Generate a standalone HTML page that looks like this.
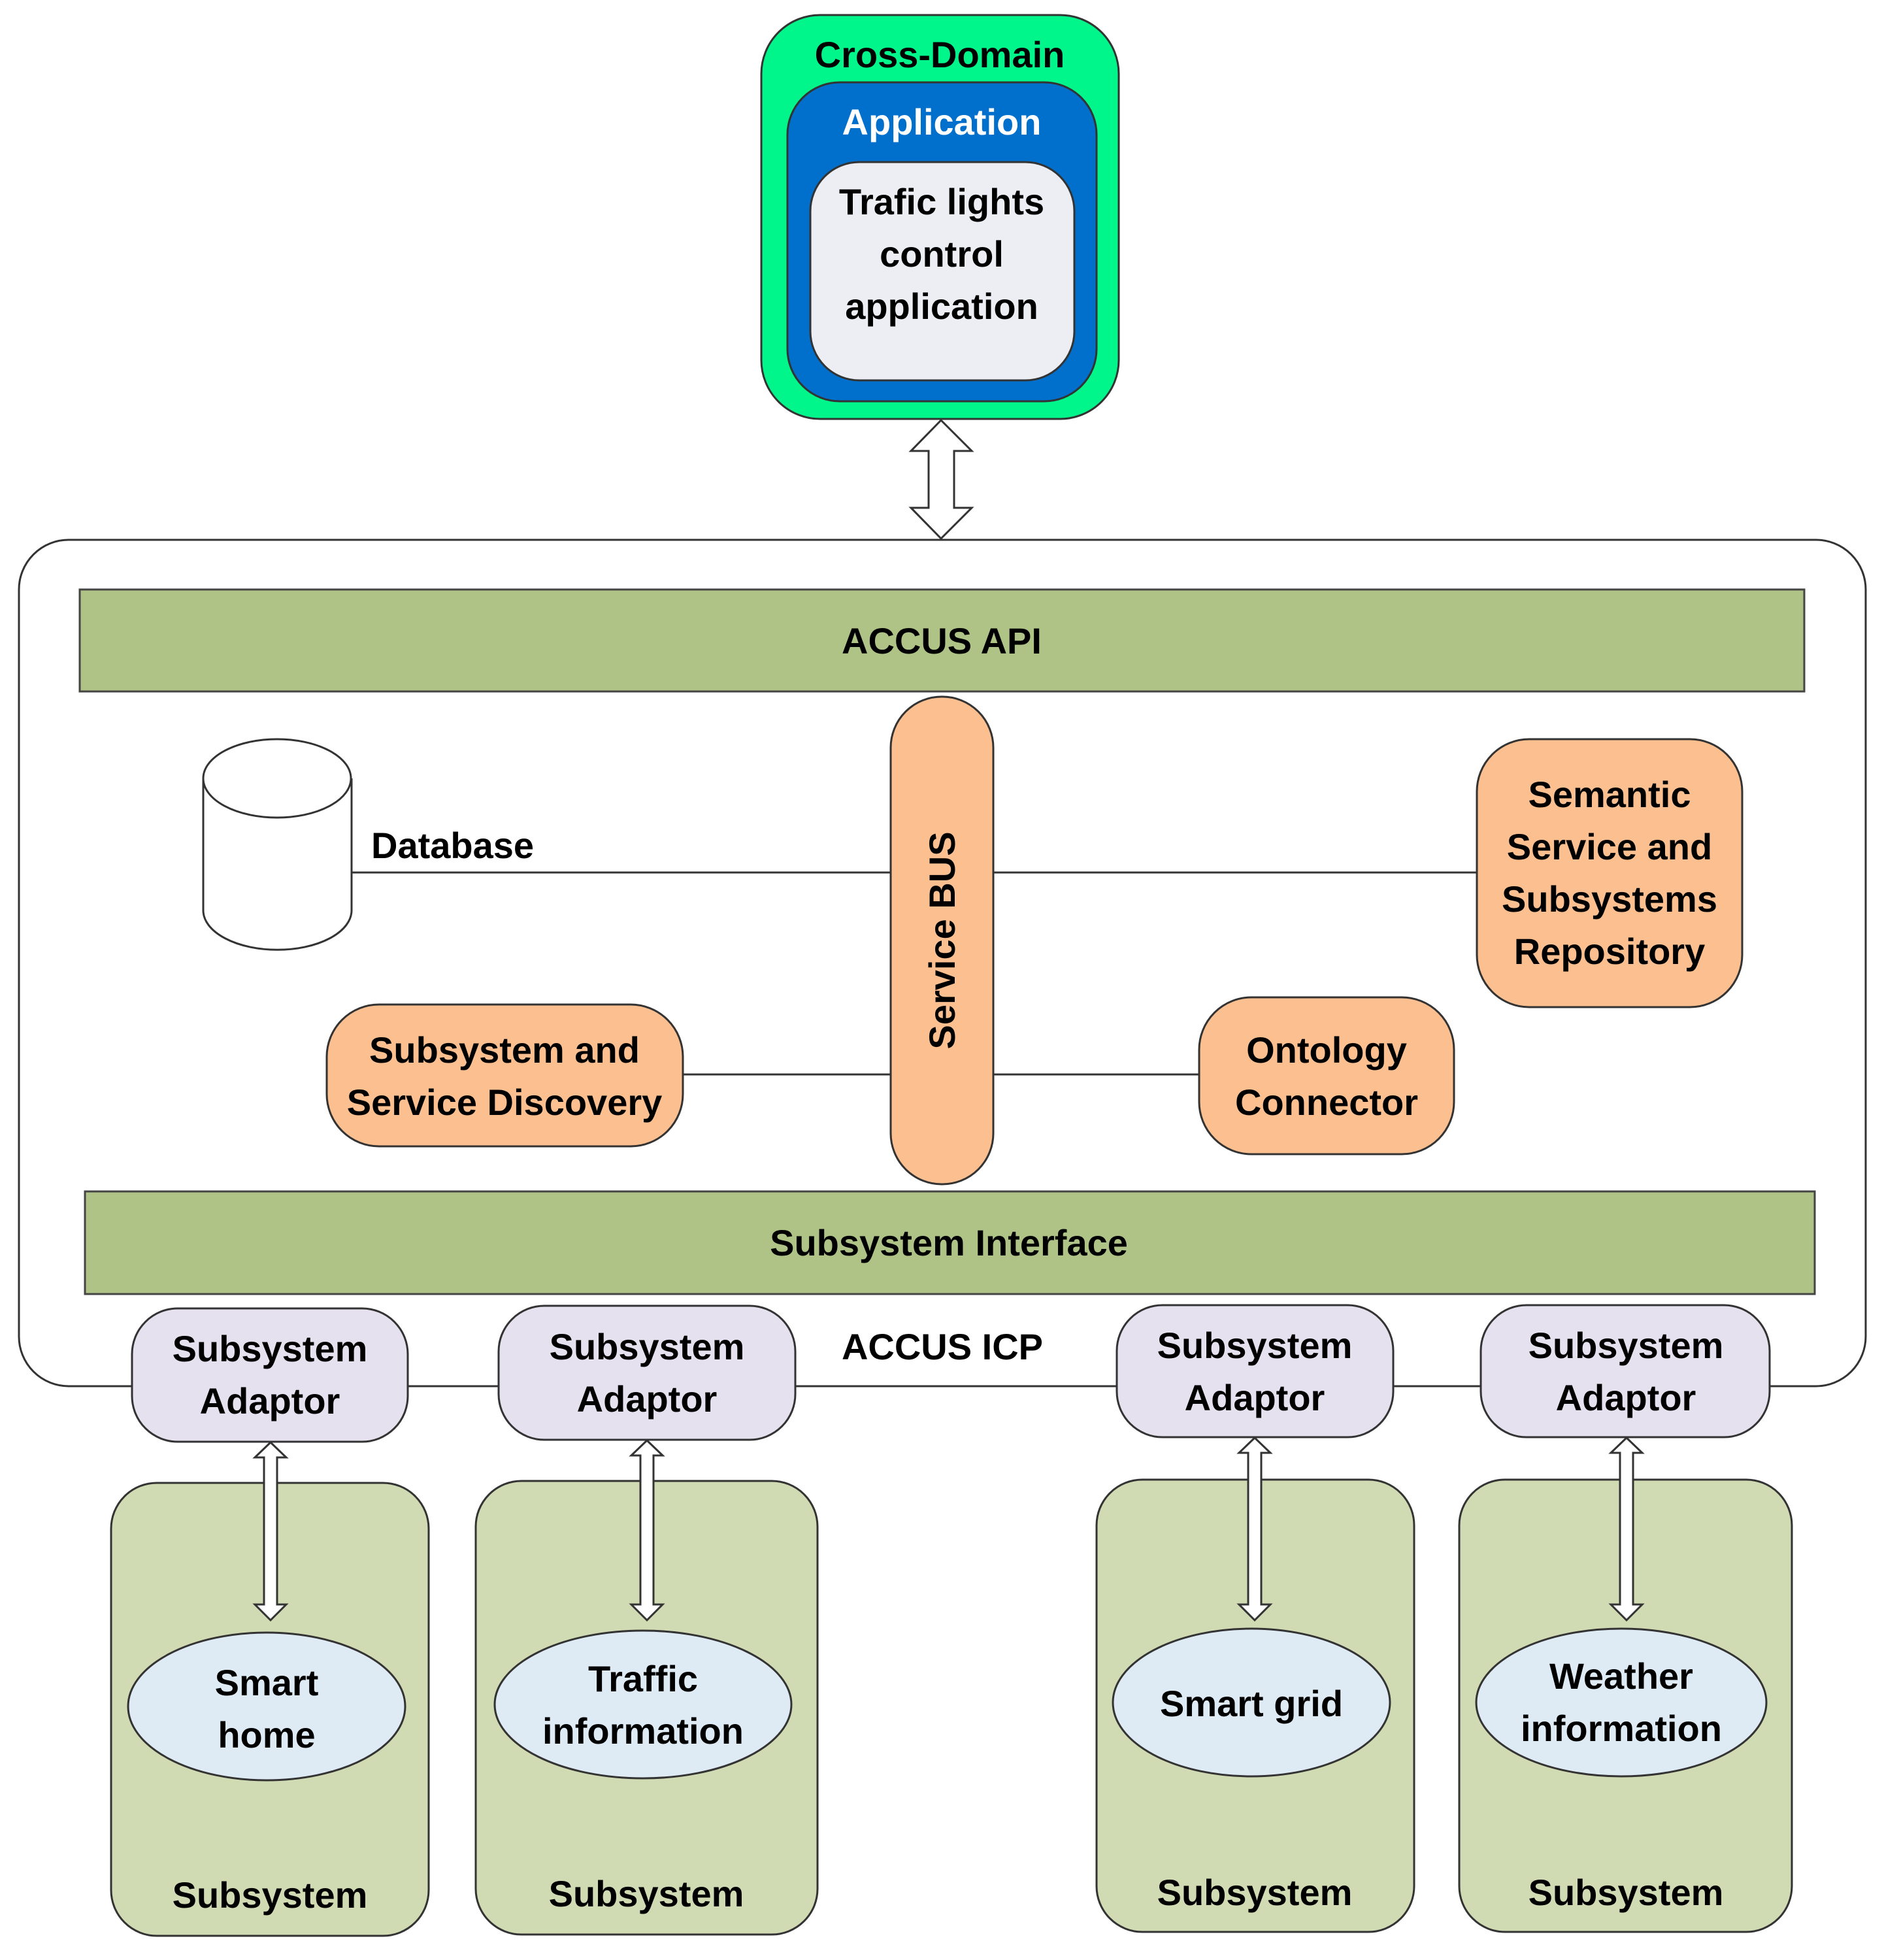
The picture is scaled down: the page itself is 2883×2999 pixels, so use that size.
<!DOCTYPE html>
<html><head><meta charset="utf-8"><style>
html,body{margin:0;padding:0;background:#fff}
svg text{font-family:"Liberation Sans",sans-serif;font-weight:bold;font-size:56px;text-anchor:middle;fill:#000}
</style></head><body>
<svg width="2883" height="2994" viewBox="0 0 2883 2994" xmlns="http://www.w3.org/2000/svg">
<rect x="1165" y="23" width="547" height="618" rx="90" fill="#00f58a" stroke="#333" stroke-width="3"/>
<rect x="1205" y="126" width="473" height="488" rx="80" fill="#0070cc" stroke="#333" stroke-width="3"/>
<rect x="1240" y="248" width="404" height="334" rx="75" fill="#eceef4" stroke="#333" stroke-width="3"/>
<text x="1438" y="103">Cross-Domain</text>
<text x="1441" y="206" style="fill:#fff">Application</text>
<text x="1441" y="328">Trafic lights</text>
<text x="1441" y="408">control</text>
<text x="1441" y="488">application</text>
<polygon points="1440,643 1487,690 1460,690 1460,777 1487,777 1440,824 1394,777 1421,777 1421,690 1394,690" fill="#fff" stroke="#333" stroke-width="3"/>
<rect x="29" y="826" width="2826" height="1295" rx="76" fill="none" stroke="#333" stroke-width="3"/>
<rect x="122" y="902" width="2639" height="156" fill="#afc386" stroke="#444" stroke-width="3"/>
<text x="1441" y="1000">ACCUS API</text>
<rect x="130" y="1823" width="2647" height="157" fill="#afc386" stroke="#444" stroke-width="3"/>
<text x="1452" y="1921">Subsystem Interface</text>
<line x1="538" y1="1335" x2="1363" y2="1335" stroke="#333" stroke-width="3"/>
<line x1="1520" y1="1335" x2="2260" y2="1335" stroke="#333" stroke-width="3"/>
<line x1="1045" y1="1644" x2="1363" y2="1644" stroke="#333" stroke-width="3"/>
<line x1="1520" y1="1644" x2="1835" y2="1644" stroke="#333" stroke-width="3"/>
<rect x="1363" y="1066" width="157" height="746" rx="78" fill="#fbbf90" stroke="#333" stroke-width="3"/>
<text transform="translate(1461,1439) rotate(-90)">Service BUS</text>
<path d="M311,1191 L311,1393 A113,60 0 0 0 538,1393 L538,1191" fill="#fff" stroke="#333" stroke-width="3"/>
<ellipse cx="424" cy="1191" rx="113" ry="60" fill="#fff" stroke="#333" stroke-width="3"/>
<text x="568" y="1313" style="text-anchor:start">Database</text>
<rect x="2260" y="1131" width="406" height="410" rx="80" fill="#fbbf90" stroke="#333" stroke-width="3"/>
<text x="2463" y="1235">Semantic</text>
<text x="2463" y="1315">Service and</text>
<text x="2463" y="1395">Subsystems</text>
<text x="2463" y="1475">Repository</text>
<rect x="500" y="1537" width="545" height="217" rx="80" fill="#fbbf90" stroke="#333" stroke-width="3"/>
<text x="772" y="1626">Subsystem and</text>
<text x="772" y="1706">Service Discovery</text>
<rect x="1835" y="1526" width="390" height="240" rx="80" fill="#fbbf90" stroke="#333" stroke-width="3"/>
<text x="2030" y="1626">Ontology</text>
<text x="2030" y="1706">Connector</text>
<text x="1442" y="2080">ACCUS ICP</text>
<g fill="#d1dbb3" stroke="#333" stroke-width="3">
<rect x="170" y="2269" width="486" height="693" rx="70"/>
<rect x="728" y="2266" width="523" height="694" rx="70"/>
<rect x="1678" y="2264" width="486" height="692" rx="70"/>
<rect x="2233" y="2264" width="509" height="692" rx="70"/>
</g>
<g fill="#dfebf4" stroke="#333" stroke-width="3">
<ellipse cx="408" cy="2611" rx="212" ry="113"/>
<ellipse cx="984" cy="2608" rx="227" ry="113"/>
<ellipse cx="1915" cy="2605" rx="212" ry="113"/>
<ellipse cx="2481" cy="2605" rx="222" ry="113"/>
</g>
<text x="408" y="2594">Smart</text>
<text x="408" y="2674">home</text>
<text x="984" y="2588">Traffic</text>
<text x="984" y="2668">information</text>
<text x="1915" y="2626">Smart grid</text>
<text x="2481" y="2584">Weather</text>
<text x="2481" y="2664">information</text>
<text x="413" y="2919">Subsystem</text>
<text x="989" y="2917">Subsystem</text>
<text x="1920" y="2915">Subsystem</text>
<text x="2488" y="2915">Subsystem</text>
<g fill="#e6e1ee" stroke="#333" stroke-width="3">
<rect x="202" y="2002" width="422" height="204" rx="70"/>
<rect x="763" y="1998" width="454" height="205" rx="70"/>
<rect x="1709" y="1997" width="423" height="202" rx="70"/>
<rect x="2266" y="1997" width="442" height="202" rx="70"/>
</g>
<text x="413" y="2083">Subsystem</text><text x="413" y="2163">Adaptor</text>
<text x="990" y="2080">Subsystem</text><text x="990" y="2160">Adaptor</text>
<text x="1920" y="2078">Subsystem</text><text x="1920" y="2158">Adaptor</text>
<text x="2488" y="2078">Subsystem</text><text x="2488" y="2158">Adaptor</text>
<g fill="#fff" stroke="#333" stroke-width="3">
<polygon points="414,2207 438,2230 424,2230 424,2455 438,2455 414,2479 390,2455 404,2455 404,2230 390,2230"/>
<polygon points="990,2204 1014,2227 1000,2227 1000,2455 1014,2455 990,2479 966,2455 980,2455 980,2227 966,2227"/>
<polygon points="1920,2200 1944,2223 1930,2223 1930,2455 1944,2455 1920,2479 1896,2455 1910,2455 1910,2223 1896,2223"/>
<polygon points="2489,2200 2513,2223 2499,2223 2499,2455 2513,2455 2489,2479 2465,2455 2479,2455 2479,2223 2465,2223"/>
</g>
</svg>
</body></html>
